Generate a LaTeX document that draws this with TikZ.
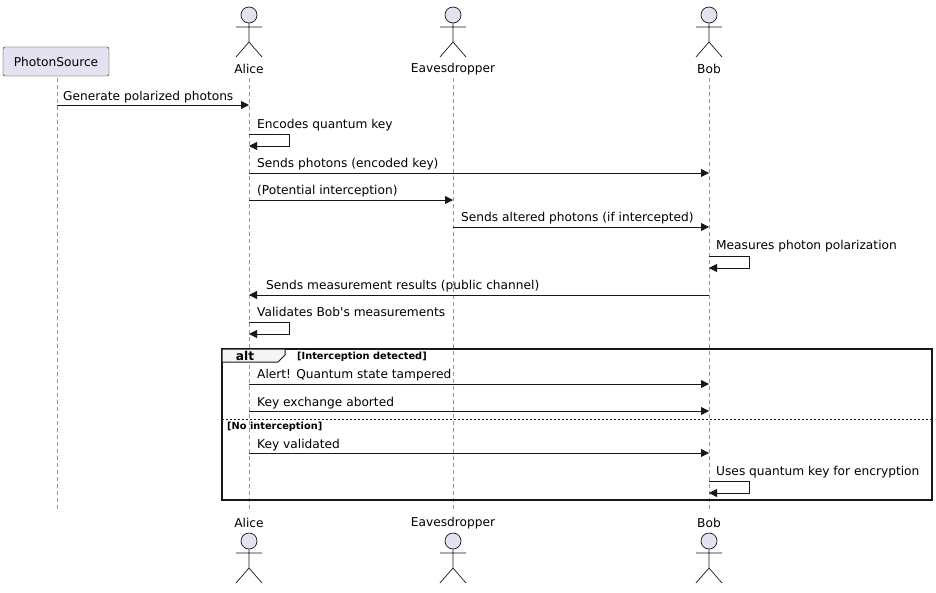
\documentclass[tikz,border=0pt]{standalone}
\usepackage{fontspec}
\setmainfont{DejaVu Sans}
\usetikzlibrary{arrows.meta}
\definecolor{actfill}{HTML}{E2E2F0}
\definecolor{ln}{HTML}{181818}
\begin{document}
\begin{tikzpicture}[x=1pt,y=-1pt,
  msg/.style={draw=ln,line width=0.8pt,-{Triangle[length=8pt,width=8pt,fill=ln]}},
  lbl/.style={anchor=base west,font=\fontsize{12.2}{14}\selectfont,inner sep=0pt},
  grd/.style={anchor=base west,font=\bfseries\fontsize{9.8}{11}\selectfont,inner sep=0pt},
  life/.style={draw=gray!80,dash pattern=on 4pt off 3pt,line width=0.7pt},
  act/.style={draw=ln,line width=0.7pt}]
\useasboundingbox (0,0) rectangle (936,592);
% lifelines
\foreach \n/\x in {P/57,A/249,E/453,B/709}{
  \coordinate (\n t) at (\x,78);
  \coordinate (\n b) at (\x,512);
  \draw[life] (\n t) -- (\n b);
}
% PhotonSource box
\node[draw=ln,fill=actfill,rounded corners=2pt,minimum width=106pt,minimum height=29pt,inner sep=0pt,font=\fontsize{12.2}{14}\selectfont] (ps) at (56,61.5) {PhotonSource};
% actors
\newcommand{\myactor}[2]{%
  \draw[act,fill=actfill] (#1,#2) circle (8);
  \draw[act] (#1,#2+8) -- (#1,#2+27) (#1-13,#2+12) -- (#1+13,#2+12)
    (#1-13,#2+42) -- (#1,#2+27) -- (#1+13,#2+42);
}
\foreach \x/\nm in {249/Alice,453/Eavesdropper,709/Bob}{
  \myactor{\x}{15}
  \node[font=\fontsize{12.2}{14}\selectfont] (top\nm) at (\x,69) {\nm};
  \myactor{\x}{541}
  \node[font=\fontsize{12.2}{14}\selectfont] (bot\nm) at (\x,523) {\nm};
}
% messages
\draw[msg] (57,105) -- (249,105); \node[lbl] at (63,100) {Generate polarized photons};
\draw[msg] (249,134) -- (289,134) -- (289,146) -- (249,146);
\node[lbl] at (257,128) {Encodes quantum key};
\draw[msg] (249,173) -- (709,173); \node[lbl] at (257,167) {Sends photons (encoded key)};
\draw[msg] (249,200) -- (453,200); \node[lbl] at (257,194) {(Potential interception)};
\draw[msg] (453,227) -- (709,227); \node[lbl] at (461,221) {Sends altered photons (if intercepted)};
\draw[msg] (709,256) -- (749,256) -- (749,268) -- (709,268);
\node[lbl] at (716,249) {Measures photon polarization};
\draw[msg] (709,295) -- (249,295); \node[lbl] at (266,289) {Sends measurement results (public channel)};
\draw[msg] (249,322) -- (289,322) -- (289,334) -- (249,334);
\node[lbl] at (257,316) {Validates Bob\textquotesingle s measurements};
% alt frame
\draw[draw=ln,line width=1.2pt] (222,349) rectangle (932,500);
\draw[draw=ln,line width=1pt,fill=gray!8] (222,349) -- (285,349) -- (285,355) -- (278,362) -- (222,362) -- cycle;
\node[font=\bfseries\fontsize{12.2}{14}\selectfont] at (245,355.5) {alt};
\node[grd] at (297,359) {[Interception detected]};
\draw[msg] (249,384) -- (709,384); \node[lbl] at (257,378) {Alert! Quantum state tampered};
\draw[msg] (249,411) -- (709,411); \node[lbl] at (257,406) {Key exchange aborted};
\draw[ln,dash pattern=on 2pt off 2pt,line width=0.8pt] (222,419) -- (932,419);
\node[grd] at (227,429) {[No interception]};
\draw[msg] (249,453) -- (709,453); \node[lbl] at (257,448) {Key validated};
\draw[msg] (709,481) -- (749,481) -- (749,493) -- (709,493);
\node[lbl] at (716,475) {Uses quantum key for encryption};
\end{tikzpicture}
\end{document}
